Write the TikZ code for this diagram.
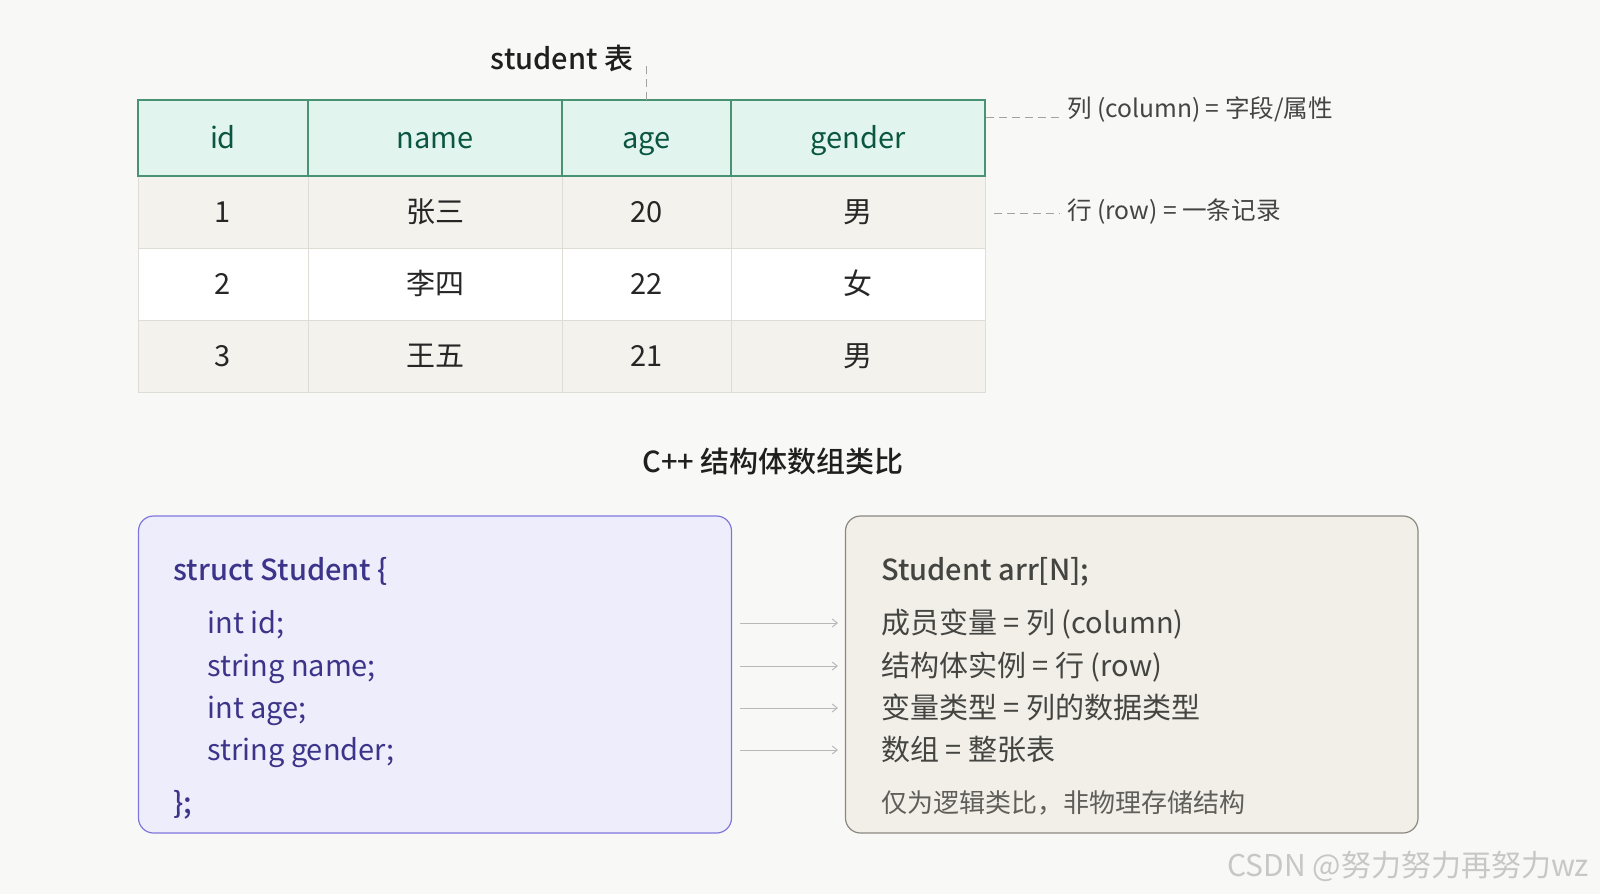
\documentclass[tikz,border=0pt]{standalone}
\usepackage{fontspec}
\setmainfont{Noto Sans CJK SC}[BoldFont={Noto Sans CJK SC Medium}]
\usetikzlibrary{arrows.meta}

\definecolor{bgcol}{HTML}{F8F8F6}
\definecolor{hdrfill}{HTML}{E1F5EE}
\definecolor{hdrline}{HTML}{4A9274}
\definecolor{hdrtext}{HTML}{0B5640}
\definecolor{rowfill}{HTML}{F3F2EC}
\definecolor{gridline}{HTML}{DEDCD4}
\definecolor{structfill}{HTML}{EEEDFC}
\definecolor{structline}{HTML}{7F77DD}
\definecolor{structtext}{HTML}{3C3489}
\definecolor{arrfill}{HTML}{F1EFE8}
\definecolor{arrline}{HTML}{8A8880}
\definecolor{arrtext}{HTML}{444441}
\definecolor{notetext}{HTML}{5F5E5A}
\definecolor{dashcol}{HTML}{A3A39D}

\begin{document}
\begin{tikzpicture}[x=0.5pt, y=-0.5pt,
    hdr/.style={text=hdrtext, font=\fontsize{14.5}{17}\selectfont, text height=10.5pt, text depth=0pt},
    cell/.style={text=black!85, font=\fontsize{14.5}{17}\selectfont, text height=10.5pt, text depth=0pt},
    heading/.style={text=black!88, font=\fontsize{14.5}{17}\selectfont\bfseries},
    note/.style={anchor=west, text=arrtext, font=\fontsize{12.3}{15}\selectfont},
    structline/.style={anchor=west, text=structtext, font=\fontsize{14.5}{17}\selectfont,
        text height=10.5pt, text depth=0pt, inner sep=0pt},
    arrline/.style={anchor=west, text=arrtext, font=\fontsize{14.5}{17}\selectfont,
        text height=10.5pt, text depth=0pt, inner sep=0pt},
    dashline/.style={dashcol, line width=0.5pt, dash pattern=on 4pt off 2.5pt},
    link/.style={gray!55, line width=0.5pt, -{Straight Barb[length=2.5pt, width=4pt]}}]

        \useasboundingbox (0,0) rectangle (1600,894);
        \fill[bgcol] (0,0) rectangle (1600,894);

        % table body
        \fill[rowfill] (138,176) rectangle (985,248);
        \fill[white] (138,248) rectangle (985,320);
        \fill[rowfill] (138,320) rectangle (985,392);
        \foreach \y in {248,320} \draw[gridline] (138,\y) -- (985,\y);
        \foreach \x in {308,562,731} \draw[gridline] (\x,176) -- (\x,392);
        \draw[gridline] (138,176) -- (138,392) -- (985,392) -- (985,176);

        % header
        \filldraw[fill=hdrfill, draw=hdrline, line width=0.6pt] (138,100) rectangle (985,176);
        \foreach \x in {308,562,731} \draw[hdrline, line width=0.6pt] (\x,100) -- (\x,176);

        \foreach \t/\cx [count=\i] in {id/223,name/435,age/646.5,gender/858}
            \node[hdr] (h\i) at (\cx,138) {\t};

        \foreach \a/\b/\c/\d/\y [count=\r] in {1/张三/20/男/212, 2/李四/22/女/284, 3/王五/21/男/356} {
            \node[cell] (r\r-1) at (223,\y) {\a};
            \node[cell] (r\r-2) at (435,\y) {\b};
            \node[cell] (r\r-3) at (646.5,\y) {\c};
            \node[cell] (r\r-4) at (858,\y) {\d};
        }

        \node[heading] (title) at (562,58) {student 表};
        \coordinate (agetop) at (646.5,100);
        \coordinate (agetick) at (646.5,66);
        \draw[dashline] (agetop) -- (agetick);

        % column / row notes
        \node[note] (colnote) at (1060,109) {列 (column) = 字段/属性};
        \node[note] (rownote) at (1060,212) {行 (row) = 一条记录};
        \coordinate (colend) at (986,117);
        \coordinate (rowend) at (994,213);
        \draw[dashline] (colend) -- (colend -| colnote.west);
        \draw[dashline] (rowend) -- (rowend -| rownote.west);

        \node[heading] (analogy) at (773,462) {C++ 结构体数组类比};

        % struct box
        \filldraw[fill=structfill, draw=structline, line width=0.6pt, rounded corners=7.5pt]
            (138.5,516) rectangle (731.5,833);
        \node[structline, font=\fontsize{14.5}{17}\selectfont\bfseries] (s0) at (173,570) {struct Student \{};
        \node[structline] (s1) at (207,623) {int id;};
        \node[structline] (s2) at (207,666) {string name;};
        \node[structline] (s3) at (207,708) {int age;};
        \node[structline] (s4) at (207,750) {string gender;};
        \node[structline, font=\fontsize{14.5}{17}\selectfont\bfseries] (s5) at (173,803) {\};};

        % array box
        \filldraw[fill=arrfill, draw=arrline, line width=0.6pt, rounded corners=7.5pt]
            (845.5,516) rectangle (1418,833);
        \node[arrline, font=\fontsize{14.5}{17}\selectfont\bfseries] (a0) at (881,570) {Student arr[N];};
        \node[arrline] (a1) at (881,623) {成员变量 = 列 (column)};
        \node[arrline] (a2) at (881,666) {结构体实例 = 行 (row)};
        \node[arrline] (a3) at (881,708) {变量类型 = 列的数据类型};
        \node[arrline] (a4) at (881,750) {数组 = 整张表};
        \node[arrline, text=notetext, font=\fontsize{13}{15}\selectfont, text height=9.5pt] (a5) at (881,803) {仅为逻辑类比，非物理存储结构};

        \foreach \y [count=\i] in {623,666,708,750} {
            \coordinate (m\i) at (740,\y);
            \coordinate (n\i) at (838,\y);
            \draw[link] (m\i) -- (n\i);
        }

        \node[anchor=east, text=black!22, font=\fontsize{15}{17}\selectfont] (mark) at (1596,866) {CSDN @努力努力再努力wz};
    \end{tikzpicture}
\end{document}
